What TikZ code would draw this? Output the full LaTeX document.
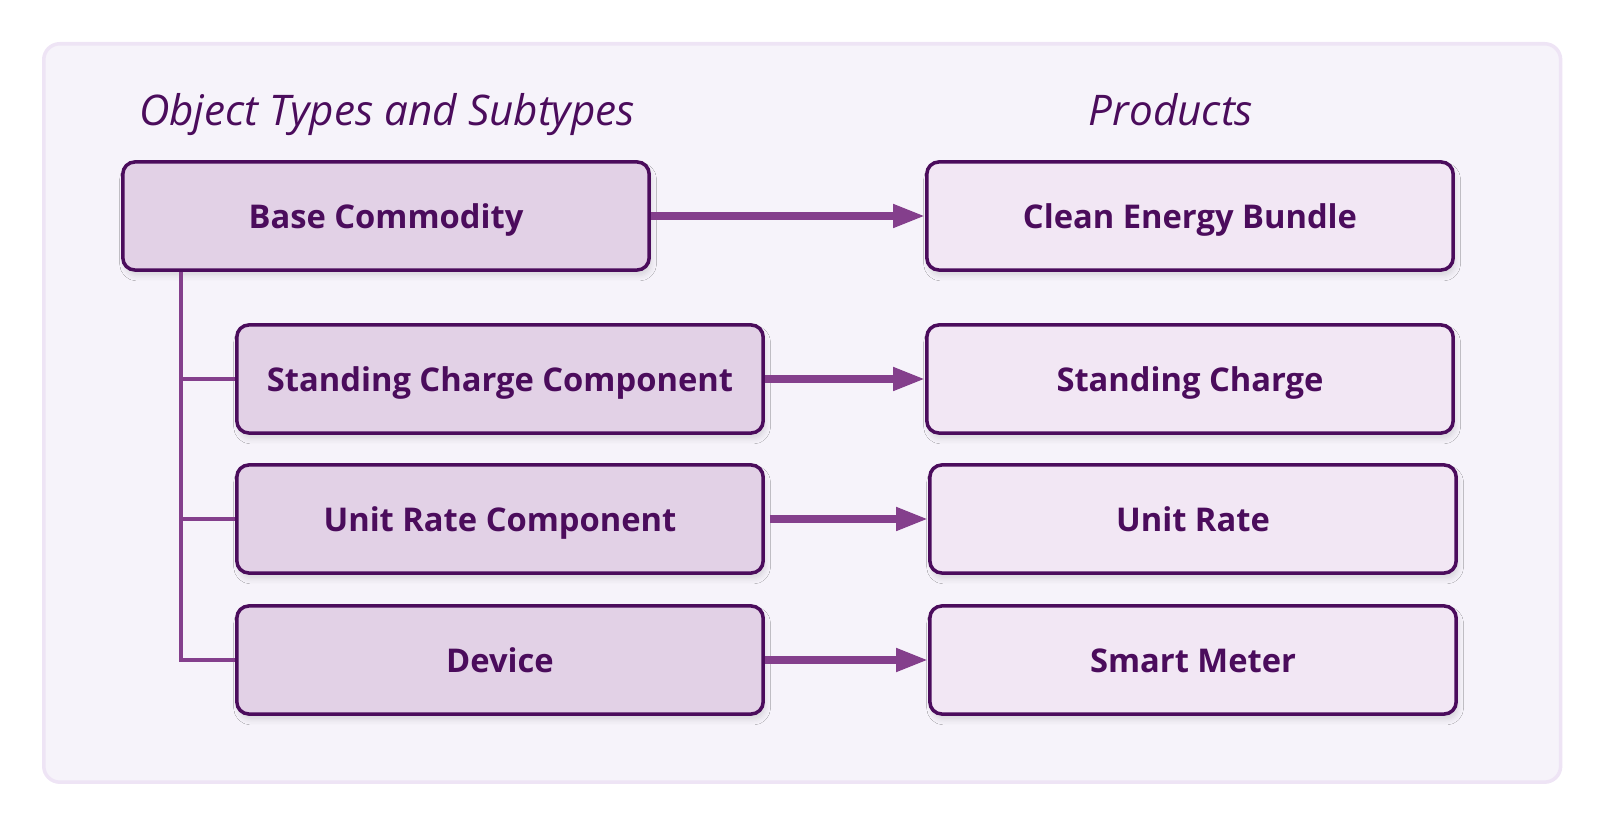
\documentclass[tikz,border=0pt]{standalone}
\usepackage{fontspec}
\setmainfont{Open Sans}
\usetikzlibrary{positioning,arrows.meta,shadows.blur}

\definecolor{panelFill}{HTML}{F6F3FA}
\definecolor{panelLine}{HTML}{EEE4F5}
\definecolor{plumDark}{HTML}{4B0C5C}
\definecolor{typeFill}{HTML}{E2D1E6}
\definecolor{prodFill}{HTML}{F2E7F4}
\definecolor{linkPurple}{HTML}{843F8C}

\begin{document}
\begin{tikzpicture}[x=0.01cm, y=-0.01cm,
        panel/.style={rectangle, draw=panelLine, line width=1pt, rounded corners=0.16cm, fill=panelFill, minimum width=15.16cm, minimum height=7.38cm},
        typebox/.style={rectangle, draw=plumDark, line width=1pt, rounded corners=0.12cm, fill=typeFill, minimum width=5.26cm, minimum height=1.08cm, text height=1.33ex, text depth=0pt, font=\bfseries\fontsize{9.3}{11}\selectfont, text=plumDark, blur shadow={shadow xshift=0.6pt, shadow yshift=-1.6pt, shadow blur steps=5, shadow blur radius=1.5pt, shadow opacity=12}},
        prodbox/.style={typebox, fill=prodFill},
        heading/.style={font=\itshape\fontsize{12}{14}\selectfont, text=plumDark, text height=1.33ex, text depth=0pt},
        link/.style={draw=linkPurple, line width=2.1pt, -{Triangle[length=0.32cm, width=0.22cm]}},
        tree/.style={draw=linkPurple, line width=1.1pt}
    ]
        \useasboundingbox (0,0) rectangle (1600,822);
        \node[panel, anchor=north west] (panel) at (42,42) {};
        \node[heading] (typetitle) at (387,113) {Object Types and Subtypes};
        \node[heading] (prodtitle) at (1171,113) {Products};

        \node[typebox] (base) at (386,216) {Base Commodity};
        \node[prodbox] (bundle) at (1190,216) {Clean Energy Bundle};
        \node[typebox] (standing) at (500,379) {Standing Charge Component};
        \node[prodbox] (charge) at (1190,379) {Standing Charge};
        \node[typebox] (unitcomp) at (500,519) {Unit Rate Component};
        \node[prodbox] (unitrate) at (1193,519) {Unit Rate};
        \node[typebox] (device) at (500,660) {Device};
        \node[prodbox] (meter) at (1193,660) {Smart Meter};

        % subtype tree
        \coordinate (trunk) at ([xshift=0.6cm]base.south west);
        \draw[tree] (trunk) |- (device.west);
        \draw[tree] (trunk |- standing.west) -- (standing.west);
        \draw[tree] (trunk |- unitcomp.west) -- (unitcomp.west);

        % type -> product
        \draw[link] (base) -- (bundle);
        \draw[link] (standing) -- (charge);
        \draw[link, shorten <=0.05cm] (unitcomp) -- (unitrate);
        \draw[link] (device) -- (meter);
    \end{tikzpicture}
\end{document}
